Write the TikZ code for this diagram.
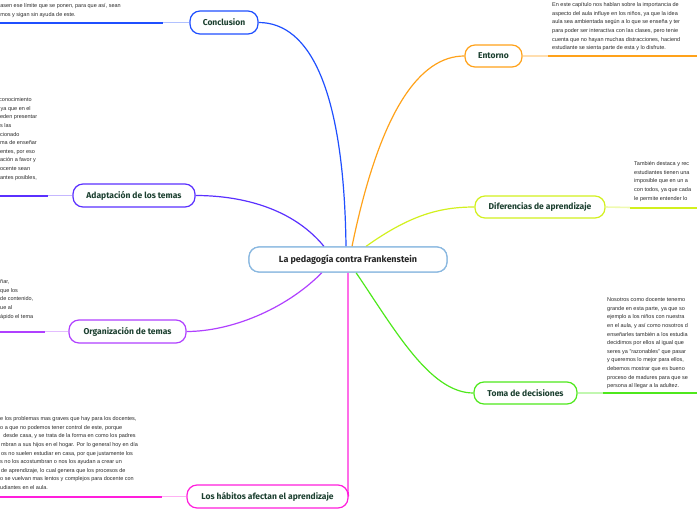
\documentclass[tikz,border=0pt]{standalone}
\usepackage{fontspec}
\setmainfont{Liberation Sans}
\newfontfamily\titlefont{Fira Sans}
\usetikzlibrary{calc}
\definecolor{cConc}{HTML}{1F4FFF}
\definecolor{cAdap}{HTML}{5A30FF}
\definecolor{cOrg}{HTML}{B040FF}
\definecolor{cHab}{HTML}{FF1EDC}
\definecolor{cEnt}{HTML}{FFA21A}
\definecolor{cDif}{HTML}{D2F01E}
\definecolor{cToma}{HTML}{4EE81C}
\definecolor{cCen}{HTML}{8AB8E0}
\definecolor{cTxt}{HTML}{1B3F2F}
\definecolor{cBody}{HTML}{2A2A2A}
\begin{document}
\begin{tikzpicture}[x=1pt,y=-1pt,
  topic/.style={draw=#1,line width=1.2pt,rounded corners=10pt,fill=white,minimum height=23pt,inner xsep=9pt,font=\titlefont\fontsize{8.5}{10}\selectfont\bfseries,text=cTxt},
  body/.style={anchor=north west,inner sep=0pt,align=left,font=\fontsize{5.5}{8.6}\selectfont,text=cBody},
  conn/.style={line width=1.2pt,draw=#1},
  uline/.style={line width=2pt,color=#1},
  lline/.style={line width=1.6pt,color=#1!35!white}]
\useasboundingbox (0,0) rectangle (697,520);
\clip (0,0) rectangle (697,520);
% nodes
\node[topic=cCen,minimum width=198pt,minimum height=25pt,font=\titlefont\fontsize{9}{10}\selectfont\bfseries,text=black!85] (c) at (348,259.5) {La pedagogía contra Frankenstein};
\node[topic=cConc,minimum width=68pt] (n1) at (224,22.5) {Conclusion};
\node[topic=cEnt,minimum width=57pt,minimum height=22pt] (n2) at (493.5,56) {Entorno};
\node[topic=cAdap,minimum width=122pt] (n3) at (134,195.5) {Adaptación de los temas};
\node[topic=cDif,minimum width=130pt,minimum height=22pt] (n4) at (540,207) {Diferencias de aprendizaje};
\node[topic=cOrg,minimum width=117pt] (n5) at (127.5,331.5) {Organización de temas};
\node[topic=cToma,minimum width=103pt,minimum height=22pt] (n6) at (525.5,393) {Toma de decisiones};
\node[topic=cHab,minimum width=161pt] (n7) at (267.5,496.5) {Los hábitos afectan el aprendizaje};
% connectors
\draw[conn=cConc] ($(c.north)+(-2,0)$) .. controls (344,90) and (310,22.5) .. (n1.east);
\draw[conn=cEnt] ($(c.north)+(4,0)$) .. controls (380,110) and (420,56) .. (n2.west);
\draw[conn=cAdap] ($(c.north)+(-24,0)$) .. controls (290,205) and (235,195.5) .. (n3.east);
\draw[conn=cDif] ($(c.north)+(18,0)$) .. controls (410,215) and (440,207) .. (n4.west);
\draw[conn=cOrg] ($(c.south)+(-26,0)$) .. controls (285,310) and (230,331.5) .. (n5.east);
\draw[conn=cToma] ($(c.south)+(8,0)$) .. controls (395,330) and (430,393) .. (n6.west);
\draw[conn=cHab] (c.south) -- (348,484) .. controls (348,492) .. (n7.east);
% redraw central node over connectors
\node[topic=cCen,minimum width=198pt,minimum height=25pt,font=\titlefont\fontsize{9}{10}\selectfont\bfseries,text=black!85] at (348,259.5) {La pedagogía contra Frankenstein};
% underlines
\coordinate (u1) at (0,22.5); \draw[uline=cConc] (u1) -- (163,22.5); \draw[lline=cConc] (163,22.5) -- (n1.west);
\coordinate (u2) at (697,56); \draw[lline=cEnt] (n2.east) -- (548,56); \draw[uline=cEnt] (548,56) -- (u2);
\coordinate (u3) at (0,195.5); \draw[uline=cAdap] (u3) -- (48,195.5); \draw[lline=cAdap] (48,195.5) -- (n3.west);
\coordinate (u4) at (697,207.5); \draw[lline=cDif] (n4.east) -- (630,207.5); \draw[uline=cDif] (630,207.5) -- (u4);
\coordinate (u5) at (0,331.5); \draw[uline=cOrg] (u5) -- (45,331.5); \draw[lline=cOrg] (45,331.5) -- (n5.west);
\coordinate (u6) at (697,393); \draw[lline=cToma] (n6.east) -- (603,393); \draw[uline=cToma] (603,393) -- (u6);
\coordinate (u7) at (0,496.5); \draw[uline=cHab] (u7) -- (162,496.5); \draw[lline=cHab] (162,496.5) -- (n7.west);
% texts
\node[body] (t1) at (-3,-5) {nte es el que debe ayudar a que los estudiantes\\ pasen ese límite que se ponen, para que así, sean\\ omos y sigan sin ayuda de este.};
\node[body] (t2) at (552,2.5) {En este capítulo nos hablan sobre la importancia de\\aspecto del aula influye en los niños, ya que la idea\\aula sea ambientada según a lo que se enseña y ter\\para poder ser interactiva con las clases, pero tenie\\cuenta que no hayan muchas distracciones, haciend\\estudiante se sienta parte de esta y lo disfrute.};
\node[body] (t3) at (-1,97.5) {conocimiento\\ \ ya que en el\\ \,eden presentar\\ \,s las\\ \,cionado\\ \,ma de enseñar\\ \,entes, por eso\\ \,ación a favor y\\ \,ocente sean\\ \,antes posibles,};
\node[body] (t4) at (634,161.5) {También destaca y rec\\estudiantes tienen una\\imposible que en un a\\con todos, ya que cada\\le permite entender lo};
\node[body] (t5) at (0,279.5) {ñar,\\que los\\de contenido,\\ue al\\ápido el tema};
\node[body] (t6) at (607,297.5) {Nosotros como docente tenemo\\grande en esta parte, ya que so\\ejemplo a los niños con nuestra\\en el aula, y así como nosotros d\\enseñarles también a los estudia\\decidimos por ellos al igual que\\seres ya "razonables" que pasar\\y queremos lo mejor para ellos,\\debemos mostrar que es bueno\\proceso de madures para que se\\persona al llegar a la adultez.};
\node[body] (t7) at (0,416.5) {e los problemas mas graves que hay para los docentes,\\o a que no podemos tener control de este, porque\\ \ \ desde casa, y se trata de la forma en como los padres\\ \,mbran a sus hijos en el hogar. Por lo general hoy en día\\ \,os no suelen estudiar en casa, por que justamente los\\s no los acostumbran o nos los ayudan a crear un\\ \,de aprendizaje, lo cual genera que los procesos de\\o se vuelvan mas lentos y complejos para docente con\\udiantes en el aula.};
\end{tikzpicture}
\end{document}
